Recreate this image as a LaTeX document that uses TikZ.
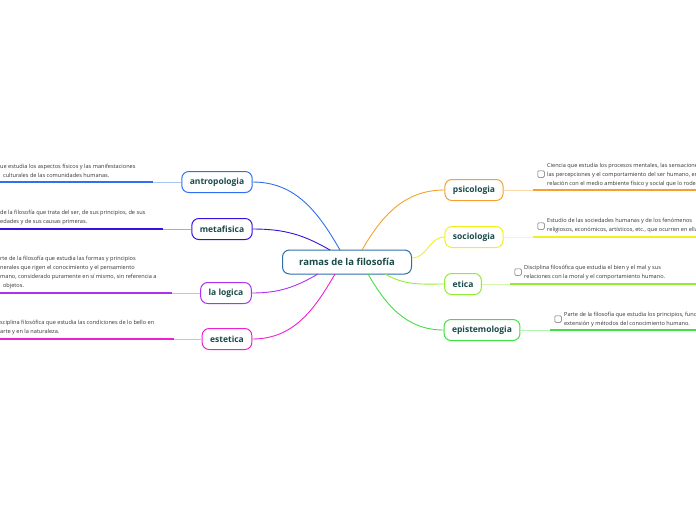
\documentclass[tikz,border=0pt]{standalone}
\usepackage{fontspec}
\setmainfont{Open Sans}
\begin{document}
\begin{tikzpicture}[x=1pt,y=-1pt,
  topic/.style={draw=#1,line width=1pt,rounded corners=7pt,fill=white,text=tc,font=\bfseries\fontsize{8.5}{10}\selectfont,minimum height=21pt,inner xsep=8pt},
  desc/.style={font=\fontsize{5.6}{9}\selectfont,text=black!80,align=left,anchor=south west,inner sep=0pt},
  chk/.style={draw=black!60,rounded corners=1pt,minimum size=6.5pt,inner sep=0pt,line width=0.5pt}]
\definecolor{tc}{HTML}{1A4A4A}
\definecolor{cA}{HTML}{2F6FF0}\definecolor{cM}{HTML}{3A10E0}\definecolor{cL}{HTML}{B030F0}
\definecolor{cE}{HTML}{F020D0}\definecolor{cP}{HTML}{F5A030}\definecolor{cS}{HTML}{F0F020}
\definecolor{cT}{HTML}{90EE30}\definecolor{cG}{HTML}{40E040}\definecolor{cC}{HTML}{2F6FA8}
\useasboundingbox (0,0) rectangle (696,520);
\clip (0,0) rectangle (696,520);
\node[topic=cC,font=\bfseries\fontsize{9.5}{11}\selectfont,minimum width=129pt,minimum height=24pt] (c) at (347,262) {ramas de la filosofía};
\node[topic=cA] (a) at (217,182) {antropologia};
\node[topic=cM] (m) at (222,229) {metafisica};
\node[topic=cL] (l) at (226,293) {la logica};
\node[topic=cE] (e) at (227,339) {estetica};
\node[topic=cP] (p) at (474,190) {psicologia};
\node[topic=cS] (s) at (474,237) {sociologia};
\node[topic=cT] (t) at (463,284) {etica};
\node[topic=cG] (g) at (482,330) {epistemologia};
% curves
\draw[cA,line width=0.9pt] (a.east) to[out=0,in=120] (340,250);
\draw[cM,line width=0.9pt] (m.east) to[out=0,in=150] (330,250);
\draw[cL,line width=0.9pt] (l.east) to[out=0,in=-150] (318,274);
\draw[cE,line width=0.9pt] (e.east) to[out=0,in=-120] (335,274);
\draw[cP,line width=0.9pt] (p.west) to[out=180,in=60] (362,250);
\draw[cS,line width=0.9pt] (s.west) to[out=180,in=0] (412,258);
\draw[cT,line width=0.9pt] (t.west) to[out=180,in=-30] (385,274);
\draw[cG,line width=0.9pt] (g.west) to[out=180,in=-60] (368,274);
% underlines
\coordinate (a0) at (0,182); \coordinate (a1) at (153,182);
\draw[cA!40,line width=0.8pt] (a.west) -- (a1); \draw[cA,line width=1.4pt] (a1) -- (a0);
\coordinate (m0) at (0,229); \coordinate (m1) at (163,229);
\draw[cM!40,line width=0.8pt] (m.west) -- (m1); \draw[cM,line width=1.4pt] (m1) -- (m0);
\coordinate (l0) at (0,293); \coordinate (l1) at (172,293);
\draw[cL!40,line width=0.8pt] (l.west) -- (l1); \draw[cL,line width=1.4pt] (l1) -- (l0);
\coordinate (e0) at (0,339); \coordinate (e1) at (174,339);
\draw[cE!40,line width=0.8pt] (e.west) -- (e1); \draw[cE,line width=1.4pt] (e1) -- (e0);
\coordinate (p0) at (696,190); \coordinate (p1) at (533,190);
\draw[cP!40,line width=0.8pt] (p.east) -- (p1); \draw[cP,line width=1.4pt] (p1) -- (p0);
\coordinate (s0) at (696,237); \coordinate (s1) at (533,237);
\draw[cS!40,line width=0.8pt] (s.east) -- (s1); \draw[cS,line width=1.4pt] (s1) -- (s0);
\coordinate (t0) at (696,284); \coordinate (t1) at (510,284);
\draw[cT!40,line width=0.8pt] (t.east) -- (t1); \draw[cT,line width=1.4pt] (t1) -- (t0);
\coordinate (g0) at (696,330); \coordinate (g1) at (550,330);
\draw[cG!40,line width=0.8pt] (g.east) -- (g1); \draw[cG,line width=1.4pt] (g1) -- (g0);
% descriptions left
\node[desc] (ad) at (0,178) {ue estudia los aspectos físicos y las manifestaciones\\ \ \ culturales de las comunidades humanas.};
\node[desc] (md) at (0,225) {de la filosofía que trata del ser, de sus principios, de sus\\ edades y de sus causas primeras.};
\node[desc] (ld) at (0,289) {rte de la filosofía que estudia las formas y principios\\ nerales que rigen el conocimiento y el pensamiento\\ mano, considerado puramente en sí mismo, sin referencia a\\ \ \ objetos.};
\node[desc] (ed) at (0,335) {sciplina filosófica que estudia las condiciones de lo bello en\\ arte y en la naturaleza.};
% descriptions right
\node[chk] (pc) at (541,174) {};
\node[desc] (pd) at (547,187) {Ciencia que estudia los procesos mentales, las sensaciones,\\ las percepciones y el comportamiento del ser humano, en\\ relación con el medio ambiente físico y social que lo rodea.};
\node[chk] (sc) at (541,226) {};
\node[desc] (sd) at (547,233) {Estudio de las sociedades humanas y de los fenómenos\\ religiosos, económicos, artísticos, etc., que ocurren en ellas.};
\node[chk] (tc1) at (518,272) {};
\node[desc] (td) at (524,280) {Disciplina filosófica que estudia el bien y el mal y sus\\ relaciones con la moral y el comportamiento humano.};
\node[chk] (gc) at (558,319) {};
\node[desc] (gd) at (564,327) {Parte de la filosofía que estudia los principios, fundamentos,\\ extensión y métodos del conocimiento humano.};
\end{tikzpicture}
\end{document}
